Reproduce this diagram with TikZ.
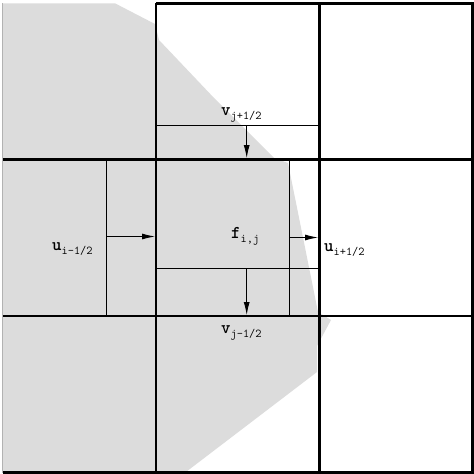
\documentclass[tikz,border=0pt]{standalone}
\usepackage{fontspec}
\usetikzlibrary{arrows.meta,calc}
\definecolor{wetgray}{RGB}{220,220,220}
\tikzstyle{gridline} = [draw, line width=2.8pt]
\tikzstyle{faceline} = [draw, line width=0.9pt]
\tikzstyle{flux} = [draw, line width=0.9pt, -{Latex[length=13pt,width=6pt]}]
\newcommand{\cellvar}[2]{{\bfseries #1}\raisebox{-4pt}{\fontsize{12}{12}\selectfont #2}}

\begin{document}
\begin{tikzpicture}[
            x = 1pt, y = -1pt, % one unit per pixel, y downwards
            every node/.style = {inner sep = 0pt, anchor = base west,
                font = \ttfamily\fontsize{18}{18}\selectfont}
        ]
        \useasboundingbox (0,0) rectangle (474,474);

        % wetted part of the domain
        \fill[wetgray] (2.7,3.3) -- (115,3.3) -- (155,24) -- (159,40)
            -- (215,99) -- (274,158) -- (288,163) -- (318,312)
            -- (331,320) -- (317,346) -- (317,372) -- (185,472.7)
            -- (2.7,472.7) -- cycle;

        % cell faces
        \draw[gridline] (156,3.3) -- (156,472.7);
        \draw[gridline] (319.3,3.3) -- (319.3,472.7);
        \draw[gridline] (2.7,159.3) -- (472.7,159.3);
        \draw[gridline] (2.7,316) -- (472.7,316);
        \draw[gridline] (156,3.3) -- (472.7,3.3) -- (472.7,472.7) -- (2.7,472.7);
        \draw[line width=1pt, gray!60] (2.7,3.3) -- (2.7,472.7);

        % staggered velocity cells
        \draw[faceline] (156,125.7) -- (319.3,125.7);
        \draw[faceline] (156,268.7) -- (319.3,268.7);
        \draw[faceline] (106.7,159.3) -- (106.7,316);
        \draw[faceline] (289.3,159.3) -- (289.3,316);

        \coordinate (vtop) at (246.7,125.7);
        \coordinate (vtopend) at (246.7,158);
        \coordinate (vbot) at (246.7,268.7);
        \coordinate (vbotend) at (246.7,315);
        \coordinate (uleft) at (106.7,236.5);
        \coordinate (uleftend) at (155,236.5);
        \coordinate (uright) at (289.3,237.5);
        \coordinate (urightend) at (318,237.5);

        \draw[flux] (vtop) -- (vtopend);
        \draw[flux] (vbot) -- (vbotend);
        \draw[flux] (uleft) -- (uleftend);
        \draw[flux] (uright) -- (urightend);

        \node (vplus) at (221,115) {\cellvar{v}{j+1/2}};
        \node (vminus) at (221,333) {\cellvar{v}{j-1/2}};
        \node (uminus) at (52,250) {\cellvar{u}{i-1/2}};
        \node (uplus) at (324,251) {\cellvar{u}{i+1/2}};
        \node (fij) at (231,238) {\cellvar{f}{i,j}};

    \end{tikzpicture}
\end{document}
